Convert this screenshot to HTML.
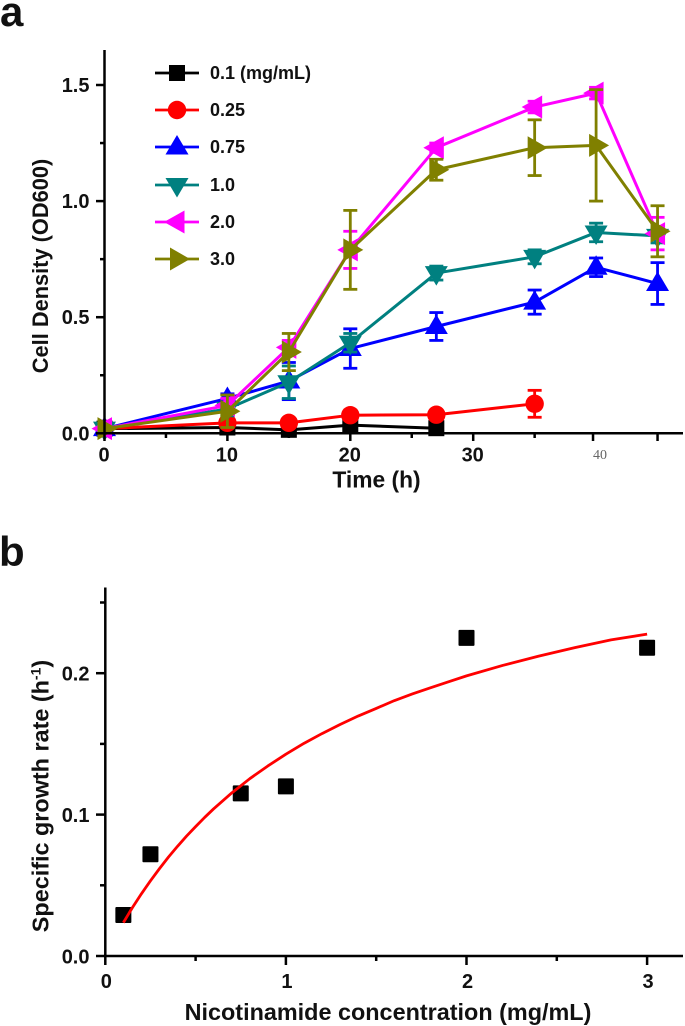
<!DOCTYPE html>
<html lang="en">
<head>
<meta charset="utf-8">
<title>Cell density and specific growth rate</title>
<style>
html,body{margin:0;padding:0;background:#fff;width:685px;height:1026px;overflow:hidden}
svg{display:block}
text{font-family:"Liberation Sans",sans-serif;font-weight:bold;fill:#111}
</style>
</head>
<body>
<svg id="chart" xmlns="http://www.w3.org/2000/svg" width="685" height="1026" viewBox="0 0 685 1026">
<rect width="685" height="1026" fill="#fff"/>
<g id="a"></g>
<g id="b"></g>
</svg>
<script>
// Panel a data
const timeHours = [0, 10, 15, 20, 27, 35, 40, 45];
const seriesLabels = ['0.1 (mg/mL)', '0.25', '0.75', '1.0', '2.0', '3.0'];
const seriesNames = ['conc-0-1', 'conc-0-25', 'conc-0-75', 'conc-1-0', 'conc-2-0', 'conc-3-0'];
const seriesColors = ['#000000', '#ff0000', '#0000ff', '#008080', '#ff00ff', '#808000'];
const seriesShapes = ['square', 'circle', 'up', 'down', 'left', 'right'];
const od01 = [0.02, 0.025, 0.015, 0.035, 0.022, null, null, null];
const od025 = [0.02, 0.045, 0.045, 0.078, 0.08, 0.127, null, null];
const od075 = [0.02, 0.15, 0.225, 0.365, 0.46, 0.565, 0.715, 0.645];
const od10 = [0.02, 0.105, 0.22, 0.39, 0.69, 0.76, 0.865, 0.85];
const od20 = [0.02, 0.12, 0.37, 0.79, 1.23, 1.405, 1.465, 0.86];
const od30 = [0.02, 0.095, 0.35, 0.79, 1.135, 1.23, 1.24, 0.87];
const err01 = [0.005, 0.01, 0.01, 0.01, 0.01, null, null, null];
const err025 = [0.005, 0.01, 0.012, 0.012, 0.012, 0.058, null, null];
const err075 = [0.005, 0.02, 0.08, 0.085, 0.06, 0.052, 0.04, 0.09];
const err10 = [0.005, 0.03, 0.07, 0.04, 0.03, 0.03, 0.04, 0.03];
const err20 = [0.005, 0.03, 0.03, 0.08, 0.02, 0.025, 0.025, 0.07];
const err30 = [0.005, 0.07, 0.08, 0.17, 0.045, 0.12, 0.24, 0.11];
const seriesValues = [od01, od025, od075, od10, od20, od30];
const seriesErrors = [err01, err025, err075, err10, err20, err30];
const aXTickValues = [0, 10, 20, 30];
const aYTickValues = [0, 0.5, 1, 1.5];
const aYMinorValues = [0.25, 0.75, 1.25];
const aXMinorValues = [5, 15, 25, 35];
const aXOddTicks = [39.75, 45];

// Panel b data
const concValues = [0.1, 0.25, 0.75, 1, 2, 3];
const rateValues = [0.029, 0.072, 0.115, 0.12, 0.225, 0.218];
const fitConc = [0.1, 0.15, 0.2, 0.25, 0.3, 0.35, 0.4, 0.45, 0.5, 0.55, 0.6, 0.7, 0.8, 0.9, 1, 1.1, 1.2, 1.3, 1.4, 1.5, 1.6, 1.7, 1.8, 1.9, 2, 2.2, 2.4, 2.6, 2.8, 3];
const fitRate = [0.0236, 0.0342, 0.044, 0.0532, 0.0618, 0.07, 0.0776, 0.0848, 0.0915, 0.098, 0.1041, 0.1153, 0.1254, 0.1344, 0.1427, 0.1504, 0.1573, 0.1637, 0.1697, 0.1751, 0.1806, 0.1853, 0.1897, 0.1939, 0.1981, 0.2055, 0.2121, 0.2181, 0.2236, 0.2276];
const bXTickValues = [0, 1, 2, 3];
const bXMinorValues = [0.5, 1.5, 2.5];
const bYTickValues = [0, 0.1, 0.2];
const bYMinorValues = [0.05, 0.15, 0.25];

const NS = 'http://www.w3.org/2000/svg';
function add(parent, tag, attrs, txt) {
  const el = document.createElementNS(NS, tag);
  for (const k in attrs) el.setAttribute(k, attrs[k]);
  if (txt !== undefined) el.textContent = txt;
  parent.appendChild(el);
  return el;
}
function line(parent, x1, y1, x2, y2, color, w, name) {
  const el = add(parent, 'line', {x1: x1, y1: y1, x2: x2, y2: y2, stroke: color, 'stroke-width': w});
  
  
  return el;
}
function label(parent, x, y, str, size, anchor, name) {
  const el = add(parent, 'text', {x: x, y: y, 'font-size': size, 'text-anchor': anchor}, str);
  
  
  return el;
}
function marker(parent, shape, cx, cy, color, name) {
  let el;
  if (shape === 'square') {
    el = add(parent, 'rect', {x: cx - 8, y: cy - 8, width: 16, height: 16, fill: color});
  } else if (shape === 'circle') {
    el = add(parent, 'circle', {cx: cx, cy: cy, r: 9.2, fill: color});
  } else {
    const off = {
      up: [[0, -12], [11.5, 7.5], [-11.5, 7.5]],
      down: [[0, 12.5], [11.5, -7], [-11.5, -7]],
      left: [[-13, 0], [7.5, -11.5], [7.5, 11.5]],
      right: [[13, 0], [-7, -11.5], [-7, 11.5]]
    }[shape];
    el = add(parent, 'polygon', {points: off.map(p => (cx + p[0]) + ',' + (cy + p[1])).join(' '), fill: color});
  }
  
  
  return el;
}

// ---------- Panel a ----------
const a = document.getElementById('a');
const ax = v => 104.5 + v * 12.29;
const ay = v => 433.3 - v * 232.2;
label(a, 0, 26, 'a', 42, 'start', 'panel-a-label');

const aPlot = add(a, 'g', {});


seriesValues.forEach((vals, s) => {
  const g = add(aPlot, 'g', {});
  
  
  const color = seriesColors[s];
  const pts = [];
  vals.forEach((v, i) => { if (v !== null) pts.push(ax(timeHours[i]) + ',' + ay(v)); });
  const pl = add(g, 'polyline', {points: pts.join(' '), fill: 'none', stroke: color, 'stroke-width': 3, 'stroke-linejoin': 'round'});
  
  
  vals.forEach((v, i) => {
    if (v === null) return;
    const x = ax(timeHours[i]), e = seriesErrors[s][i];
    line(g, x, ay(v + e), x, ay(v - e), color, 2.8, 'error-bar');
    line(g, x - 7, ay(v + e), x + 7, ay(v + e), color, 2.8, 'error-cap-top');
    line(g, x - 7, ay(v - e), x + 7, ay(v - e), color, 2.8, 'error-cap-bottom');
    marker(g, seriesShapes[s], x, ay(v), color, 'marker-' + seriesNames[s]);
  });
});

line(a, 104.5, 50, 104.5, 434.5, '#000', 2.5, 'y-axis');
line(a, 103.3, 433.3, 683, 433.3, '#000', 2.5, 'x-axis');
aYTickValues.forEach(v => {
  line(a, 96, ay(v), 104, ay(v), '#000', 2.5, 'y-tick');
  label(a, 89.5, ay(v) + 7, v.toFixed(1), 20, 'end', 'y-tick-label');
});
aYMinorValues.forEach(v => line(a, 100, ay(v), 104, ay(v), '#000', 2.5, 'y-minor-tick'));
aXTickValues.forEach(v => {
  line(a, ax(v), 433, ax(v), 441, '#000', 2.5, 'x-tick');
  label(a, ax(v) - 0.5, 461.5, String(v), 20, 'middle', 'x-tick-label');
});
aXMinorValues.forEach(v => line(a, ax(v), 433, ax(v), 438, '#000', 2.5, 'x-minor-tick'));
aXOddTicks.forEach(v => line(a, ax(v), 433, ax(v), 441, '#000', 2.5, 'x-tick'));
const lab40 = label(a, 600, 459, '40', 14, 'middle', 'x-tick-label-40');
lab40.setAttribute('style', 'font-family:"Liberation Serif",serif;font-weight:normal;fill:#666');
label(a, 376.5, 487.5, 'Time (h)', 22.8, 'middle', 'x-axis-title');
const aYT = label(a, 0, 0, 'Cell Density (OD600)', 21.8, 'middle', 'y-axis-title');
aYT.setAttribute('transform', 'translate(48,266) rotate(-90)');

const legendY = [73, 110, 147, 185, 222, 259];
const legend = add(a, 'g', {});


seriesLabels.forEach((t, s) => {
  const g = add(legend, 'g', {});
  
  
  line(g, 155, legendY[s], 199, legendY[s], seriesColors[s], 2.8, 'legend-line');
  marker(g, seriesShapes[s], 177, legendY[s], seriesColors[s], 'legend-marker');
  label(g, 210, legendY[s] + 6, t, 18, 'start', 'legend-label');
});

// ---------- Panel b ----------
const b = document.getElementById('b');
const bx = v => 105.3 + v * 180.6;
const by = v => 956 - v * 1414;
label(b, -1, 566, 'b', 42, 'start', 'panel-b-label');
line(b, 105.3, 587.5, 105.3, 957, '#000', 2.5, 'y-axis');
line(b, 104, 956, 683, 956, '#000', 2.5, 'x-axis');
bYTickValues.forEach(v => {
  line(b, 96, by(v), 105, by(v), '#000', 2.5, 'y-tick');
  label(b, 89.5, by(v) + 7.5, v.toFixed(1), 20, 'end', 'y-tick-label');
});
bYMinorValues.forEach(v => line(b, 100, by(v), 105, by(v), '#000', 2.5, 'y-minor-tick'));
bXTickValues.forEach(v => {
  line(b, bx(v), 956, bx(v), 965, '#000', 2.5, 'x-tick');
  label(b, bx(v) + 1, 988, String(v), 20, 'middle', 'x-tick-label');
});
bXMinorValues.forEach(v => line(b, bx(v), 956, bx(v), 961, '#000', 2.5, 'x-minor-tick'));
concValues.forEach((c, i) => {
  const el = add(b, 'rect', {x: bx(c) - 8, y: by(rateValues[i]) - 8, width: 16, height: 16, rx: 1, fill: '#000'});
  
  
});
const fit = add(b, 'polyline', {points: fitConc.map((c, i) => bx(c) + ',' + by(fitRate[i])).join(' '), fill: 'none', stroke: '#ff0000', 'stroke-width': 2.8, 'stroke-linejoin': 'round'});


label(b, 388, 1020, 'Nicotinamide concentration (mg/mL)', 23.4, 'middle', 'x-axis-title');
const bYT = add(b, 'text', {transform: 'translate(48.5,796) rotate(-90)', 'font-size': 23.4, 'text-anchor': 'middle'});


add(bYT, 'tspan', {}, 'Specific growth rate (h');
add(bYT, 'tspan', {'font-size': 14, dy: -8}, '-1');
add(bYT, 'tspan', {dy: 8}, ')');
</script>
</body>
</html>
